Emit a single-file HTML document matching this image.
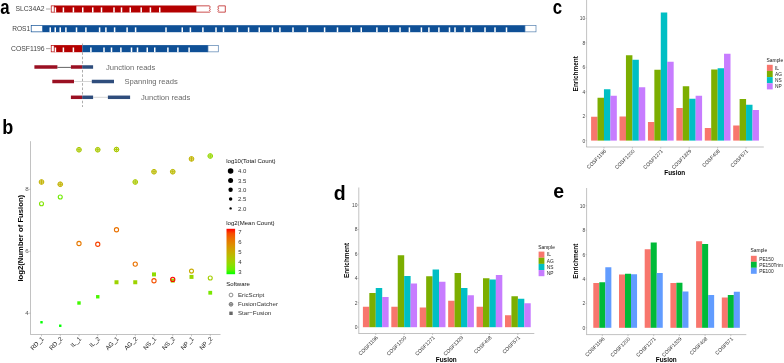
<!DOCTYPE html>
<html><head><meta charset="utf-8"><title>Figure</title>
<style>html,body{margin:0;padding:0;background:#fff}svg{display:block}</style></head>
<body>
<svg width="784" height="363" viewBox="0 0 784 363" font-family="'Liberation Sans', sans-serif">
<rect width="784" height="363" fill="#fff"/>
<text transform="translate(0.2 13.6) scale(0.8 1)" font-size="21" font-weight="bold" fill="#000">a</text>
<text transform="translate(2.2 133.7) scale(0.86 1)" font-size="21" font-weight="bold" fill="#000">b</text>
<text transform="translate(552.8 13.9) scale(0.8 1)" font-size="21" font-weight="bold" fill="#000">c</text>
<text transform="translate(333.8 199.7) scale(0.93 1)" font-size="21" font-weight="bold" fill="#000">d</text>
<text transform="translate(553.2 198) scale(0.93 1)" font-size="21" font-weight="bold" fill="#000">e</text>
<text x="44.5" y="11.3" font-size="6.8" text-anchor="end" font-weight="normal" fill="#444">SLC34A2</text>
<line x1="46" y1="9" x2="50.5" y2="9" stroke="#888" stroke-width="0.7"/>
<rect x="54" y="5.5" width="142" height="7.0" fill="#b40000"/>
<rect x="51.2" y="5.85" width="3" height="6.3" fill="#fff" stroke="#b40000" stroke-width="0.7"/>
<rect x="54.65" y="7.4" width="1.5" height="5.20" fill="#fff"/>
<rect x="62.65" y="7.4" width="1.5" height="5.20" fill="#fff"/>
<rect x="72.65" y="7.4" width="1.5" height="5.20" fill="#fff"/>
<rect x="82.00" y="7.4" width="1.5" height="5.20" fill="#fff"/>
<rect x="92.00" y="7.4" width="1.5" height="5.20" fill="#fff"/>
<rect x="100.75" y="7.4" width="1.5" height="5.20" fill="#fff"/>
<rect x="113.25" y="7.4" width="1.5" height="5.20" fill="#fff"/>
<rect x="120.75" y="7.4" width="1.5" height="5.20" fill="#fff"/>
<rect x="129.50" y="7.4" width="1.5" height="5.20" fill="#fff"/>
<rect x="140.45" y="7.4" width="1.5" height="5.20" fill="#fff"/>
<rect x="149.65" y="7.4" width="1.5" height="5.20" fill="#fff"/>
<rect x="159.00" y="7.4" width="1.5" height="5.20" fill="#fff"/>
<path d="M196 5.85 H209.5 l0.8 1.2 l-0.9 1.1 l0.9 1.1 l-0.9 1.1 l0.9 1.1 l-0.8 0.7 H196 Z" fill="#fff" stroke="#b40000" stroke-width="0.7"/>
<path d="M225.3 5.85 H218.6 l-0.8 1.2 l0.9 1.1 l-0.9 1.1 l0.9 1.1 l-0.9 1.1 l0.8 0.7 H225.3 Z" fill="#fff" stroke="#b40000" stroke-width="0.7"/>
<text x="30.2" y="31" font-size="6.6" text-anchor="end" font-weight="normal" fill="#444">ROS1</text>
<rect x="42.6" y="25.2" width="482.4" height="7.0000000000000036" fill="#0f5096"/>
<rect x="31.2" y="25.55" width="11.4" height="6.300000000000003" fill="#fff" stroke="#0f5096" stroke-width="0.7"/>
<rect x="525" y="25.55" width="11" height="6.300000000000003" fill="#fff" stroke="#5580b0" stroke-width="0.7"/>
<rect x="49.50" y="27.4" width="1.5" height="4.90" fill="#fff"/>
<rect x="54.50" y="27.4" width="1.5" height="4.90" fill="#fff"/>
<rect x="59.50" y="27.4" width="1.5" height="4.90" fill="#fff"/>
<rect x="65.15" y="27.4" width="1.5" height="4.90" fill="#fff"/>
<rect x="75.75" y="27.4" width="1.5" height="4.90" fill="#fff"/>
<rect x="85.15" y="27.4" width="1.5" height="4.90" fill="#fff"/>
<rect x="98.85" y="27.4" width="1.5" height="4.90" fill="#fff"/>
<rect x="105.15" y="27.4" width="1.5" height="4.90" fill="#fff"/>
<rect x="113.85" y="27.4" width="1.5" height="4.90" fill="#fff"/>
<rect x="126.35" y="27.4" width="1.5" height="4.90" fill="#fff"/>
<rect x="134.85" y="27.4" width="1.5" height="4.90" fill="#fff"/>
<rect x="165.25" y="27.4" width="1.5" height="4.90" fill="#fff"/>
<rect x="181.50" y="27.4" width="1.5" height="4.90" fill="#fff"/>
<rect x="189.65" y="27.4" width="1.5" height="4.90" fill="#fff"/>
<rect x="202.15" y="27.4" width="1.5" height="4.90" fill="#fff"/>
<rect x="215.25" y="27.4" width="1.5" height="4.90" fill="#fff"/>
<rect x="222.75" y="27.4" width="1.5" height="4.90" fill="#fff"/>
<rect x="236.65" y="27.4" width="1.5" height="4.90" fill="#fff"/>
<rect x="247.85" y="27.4" width="1.5" height="4.90" fill="#fff"/>
<rect x="258.50" y="27.4" width="1.5" height="4.90" fill="#fff"/>
<rect x="271.65" y="27.4" width="1.5" height="4.90" fill="#fff"/>
<rect x="279.15" y="27.4" width="1.5" height="4.90" fill="#fff"/>
<rect x="292.25" y="27.4" width="1.5" height="4.90" fill="#fff"/>
<rect x="306.65" y="27.4" width="1.5" height="4.90" fill="#fff"/>
<rect x="323.85" y="27.4" width="1.5" height="4.90" fill="#fff"/>
<rect x="336.75" y="27.4" width="1.5" height="4.90" fill="#fff"/>
<rect x="350.50" y="27.4" width="1.5" height="4.90" fill="#fff"/>
<rect x="360.50" y="27.4" width="1.5" height="4.90" fill="#fff"/>
<rect x="376.15" y="27.4" width="1.5" height="4.90" fill="#fff"/>
<rect x="388.00" y="27.4" width="1.5" height="4.90" fill="#fff"/>
<rect x="399.25" y="27.4" width="1.5" height="4.90" fill="#fff"/>
<rect x="408.65" y="27.4" width="1.5" height="4.90" fill="#fff"/>
<rect x="420.65" y="27.4" width="1.5" height="4.90" fill="#fff"/>
<rect x="428.15" y="27.4" width="1.5" height="4.90" fill="#fff"/>
<rect x="438.15" y="27.4" width="1.5" height="4.90" fill="#fff"/>
<rect x="448.75" y="27.4" width="1.5" height="4.90" fill="#fff"/>
<rect x="454.25" y="27.4" width="1.5" height="4.90" fill="#fff"/>
<rect x="463.75" y="27.4" width="1.5" height="4.90" fill="#fff"/>
<rect x="470.65" y="27.4" width="1.5" height="4.90" fill="#fff"/>
<rect x="484.25" y="27.4" width="1.5" height="4.90" fill="#fff"/>
<rect x="494.25" y="27.4" width="1.5" height="4.90" fill="#fff"/>
<rect x="505.75" y="27.4" width="1.5" height="4.90" fill="#fff"/>
<text x="44.5" y="50.9" font-size="6.8" text-anchor="end" font-weight="normal" fill="#444">COSF1196</text>
<line x1="46" y1="48.6" x2="50.5" y2="48.6" stroke="#888" stroke-width="0.7"/>
<rect x="54" y="45.1" width="28.299999999999997" height="7.100000000000001" fill="#b40000"/>
<rect x="82.3" y="45.1" width="125.7" height="7.100000000000001" fill="#0f5096"/>
<rect x="51.2" y="45.45" width="3" height="6.400000000000001" fill="#fff" stroke="#b40000" stroke-width="0.7"/>
<rect x="208" y="45.45" width="10.3" height="6.400000000000001" fill="#fff" stroke="#5580b0" stroke-width="0.7"/>
<rect x="54.65" y="47.5" width="1.5" height="4.80" fill="#fff"/>
<rect x="62.65" y="47.5" width="1.5" height="4.80" fill="#fff"/>
<rect x="72.65" y="47.5" width="1.5" height="4.80" fill="#fff"/>
<rect x="90.15" y="47.5" width="1.5" height="4.80" fill="#fff"/>
<rect x="103.25" y="47.5" width="1.5" height="4.80" fill="#fff"/>
<rect x="110.75" y="47.5" width="1.5" height="4.80" fill="#fff"/>
<rect x="120.15" y="47.5" width="1.5" height="4.80" fill="#fff"/>
<rect x="130.75" y="47.5" width="1.5" height="4.80" fill="#fff"/>
<rect x="136.75" y="47.5" width="1.5" height="4.80" fill="#fff"/>
<rect x="146.50" y="47.5" width="1.5" height="4.80" fill="#fff"/>
<rect x="154.00" y="47.5" width="1.5" height="4.80" fill="#fff"/>
<rect x="167.15" y="47.5" width="1.5" height="4.80" fill="#fff"/>
<rect x="177.15" y="47.5" width="1.5" height="4.80" fill="#fff"/>
<rect x="188.35" y="47.5" width="1.5" height="4.80" fill="#fff"/>
<line x1="82.5" y1="43.5" x2="82.5" y2="107" stroke="#777" stroke-width="0.6" stroke-dasharray="2.6 1.8"/>
<rect x="34.4" y="65.25" width="23.00" height="3.5" fill="#9a1022"/>
<line x1="57.4" y1="67.4" x2="70.9" y2="67.4" stroke="#222" stroke-width="0.7"/>
<rect x="70.9" y="65.25" width="11.40" height="3.5" fill="#9a1022"/>
<rect x="82.3" y="65.25" width="10.80" height="3.5" fill="#2f4d7c"/>
<text x="106" y="69.6" font-size="7.6" text-anchor="start" font-weight="normal" fill="#6a6a6a">Junction reads</text>
<rect x="52.3" y="79.75" width="21.70" height="3.5" fill="#9a1022"/>
<line x1="74" y1="81.5" x2="91.8" y2="81.5" stroke="#bbb" stroke-width="0.6"/>
<rect x="91.8" y="79.75" width="22.20" height="3.5" fill="#2f4d7c"/>
<text x="124.5" y="84.1" font-size="7.6" text-anchor="start" font-weight="normal" fill="#6a6a6a">Spanning reads</text>
<rect x="70.9" y="95.55" width="11.40" height="3.5" fill="#9a1022"/>
<rect x="82.3" y="95.55" width="10.80" height="3.5" fill="#2f4d7c"/>
<line x1="93.1" y1="97.3" x2="107.9" y2="97.3" stroke="#bbb" stroke-width="0.6"/>
<rect x="107.9" y="95.55" width="22.20" height="3.5" fill="#2f4d7c"/>
<text x="141" y="99.9" font-size="7.6" text-anchor="start" font-weight="normal" fill="#6a6a6a">Junction reads</text>
<line x1="30.5" y1="141.2" x2="30.5" y2="334.2" stroke="#999" stroke-width="0.6"/>
<line x1="30.2" y1="334.5" x2="220.5" y2="334.5" stroke="#999" stroke-width="0.6"/>
<line x1="41.5" y1="334.5" x2="41.5" y2="336.3" stroke="#999" stroke-width="0.5"/>
<text x="44.1" y="339.2" font-size="6.2" text-anchor="end" font-weight="normal" fill="#1a1a1a" transform="rotate(-45 44.1 339.2)">RD_1</text>
<line x1="60.25" y1="334.5" x2="60.25" y2="336.3" stroke="#999" stroke-width="0.5"/>
<text x="62.85" y="339.2" font-size="6.2" text-anchor="end" font-weight="normal" fill="#1a1a1a" transform="rotate(-45 62.85 339.2)">RD_2</text>
<line x1="79.0" y1="334.5" x2="79.0" y2="336.3" stroke="#999" stroke-width="0.5"/>
<text x="81.6" y="339.2" font-size="6.2" text-anchor="end" font-weight="normal" fill="#1a1a1a" transform="rotate(-45 81.6 339.2)">IL_1</text>
<line x1="97.75" y1="334.5" x2="97.75" y2="336.3" stroke="#999" stroke-width="0.5"/>
<text x="100.35" y="339.2" font-size="6.2" text-anchor="end" font-weight="normal" fill="#1a1a1a" transform="rotate(-45 100.35 339.2)">IL_2</text>
<line x1="116.5" y1="334.5" x2="116.5" y2="336.3" stroke="#999" stroke-width="0.5"/>
<text x="119.1" y="339.2" font-size="6.2" text-anchor="end" font-weight="normal" fill="#1a1a1a" transform="rotate(-45 119.1 339.2)">AG_1</text>
<line x1="135.25" y1="334.5" x2="135.25" y2="336.3" stroke="#999" stroke-width="0.5"/>
<text x="137.85" y="339.2" font-size="6.2" text-anchor="end" font-weight="normal" fill="#1a1a1a" transform="rotate(-45 137.85 339.2)">AG_2</text>
<line x1="154.0" y1="334.5" x2="154.0" y2="336.3" stroke="#999" stroke-width="0.5"/>
<text x="156.6" y="339.2" font-size="6.2" text-anchor="end" font-weight="normal" fill="#1a1a1a" transform="rotate(-45 156.6 339.2)">NS_1</text>
<line x1="172.75" y1="334.5" x2="172.75" y2="336.3" stroke="#999" stroke-width="0.5"/>
<text x="175.35" y="339.2" font-size="6.2" text-anchor="end" font-weight="normal" fill="#1a1a1a" transform="rotate(-45 175.35 339.2)">NS_2</text>
<line x1="191.5" y1="334.5" x2="191.5" y2="336.3" stroke="#999" stroke-width="0.5"/>
<text x="194.1" y="339.2" font-size="6.2" text-anchor="end" font-weight="normal" fill="#1a1a1a" transform="rotate(-45 194.1 339.2)">NP_1</text>
<line x1="210.25" y1="334.5" x2="210.25" y2="336.3" stroke="#999" stroke-width="0.5"/>
<text x="212.85" y="339.2" font-size="6.2" text-anchor="end" font-weight="normal" fill="#1a1a1a" transform="rotate(-45 212.85 339.2)">NP_2</text>
<line x1="29" y1="189.3" x2="30.5" y2="189.3" stroke="#999" stroke-width="0.5"/>
<text x="28.8" y="191.20000000000002" font-size="6.2" text-anchor="end" font-weight="normal" fill="#555">8</text>
<line x1="29" y1="251.3" x2="30.5" y2="251.3" stroke="#999" stroke-width="0.5"/>
<text x="28.8" y="253.20000000000002" font-size="6.2" text-anchor="end" font-weight="normal" fill="#555">6</text>
<line x1="29" y1="313.2" x2="30.5" y2="313.2" stroke="#999" stroke-width="0.5"/>
<text x="28.8" y="315.09999999999997" font-size="6.2" text-anchor="end" font-weight="normal" fill="#555">4</text>
<text x="23.0" y="238.2" font-size="7.7" text-anchor="middle" font-weight="bold" fill="#000" transform="rotate(-90 23.0 238.2)">log2(Number of Fusion)</text>
<circle cx="41.5" cy="182" r="2.3499999999999996" fill="#fff" stroke="#c2b200" stroke-width="1.0"/>
<circle cx="41.5" cy="182" r="2.3499999999999996" fill="#c2b200" fill-opacity="0.4"/>
<path d="M39.15 182H43.85M41.5 179.65V184.35" stroke="#c2b200" stroke-width="0.9"/>
<circle cx="60.25" cy="184.25" r="2.3499999999999996" fill="#fff" stroke="#c2b200" stroke-width="1.0"/>
<circle cx="60.25" cy="184.25" r="2.3499999999999996" fill="#c2b200" fill-opacity="0.4"/>
<path d="M57.9 184.25H62.6M60.25 181.9V186.6" stroke="#c2b200" stroke-width="0.9"/>
<circle cx="79.0" cy="149.75" r="2.3499999999999996" fill="#fff" stroke="#aac900" stroke-width="1.0"/>
<circle cx="79.0" cy="149.75" r="2.3499999999999996" fill="#aac900" fill-opacity="0.4"/>
<path d="M76.65 149.75H81.35M79.0 147.4V152.1" stroke="#aac900" stroke-width="0.9"/>
<circle cx="97.75" cy="149.75" r="2.3499999999999996" fill="#fff" stroke="#aac900" stroke-width="1.0"/>
<circle cx="97.75" cy="149.75" r="2.3499999999999996" fill="#aac900" fill-opacity="0.4"/>
<path d="M95.4 149.75H100.1M97.75 147.4V152.1" stroke="#aac900" stroke-width="0.9"/>
<circle cx="116.5" cy="149.5" r="2.3499999999999996" fill="#fff" stroke="#aac900" stroke-width="1.0"/>
<circle cx="116.5" cy="149.5" r="2.3499999999999996" fill="#aac900" fill-opacity="0.4"/>
<path d="M114.15 149.5H118.85M116.5 147.15V151.85" stroke="#aac900" stroke-width="0.9"/>
<circle cx="135.25" cy="182" r="2.3499999999999996" fill="#fff" stroke="#aac900" stroke-width="1.0"/>
<circle cx="135.25" cy="182" r="2.3499999999999996" fill="#aac900" fill-opacity="0.4"/>
<path d="M132.9 182H137.6M135.25 179.65V184.35" stroke="#aac900" stroke-width="0.9"/>
<circle cx="154.0" cy="171.75" r="2.3499999999999996" fill="#fff" stroke="#bbba00" stroke-width="1.0"/>
<circle cx="154.0" cy="171.75" r="2.3499999999999996" fill="#bbba00" fill-opacity="0.4"/>
<path d="M151.65 171.75H156.35M154.0 169.4V174.1" stroke="#bbba00" stroke-width="0.9"/>
<circle cx="172.75" cy="171.75" r="2.3499999999999996" fill="#fff" stroke="#bbba00" stroke-width="1.0"/>
<circle cx="172.75" cy="171.75" r="2.3499999999999996" fill="#bbba00" fill-opacity="0.4"/>
<path d="M170.4 171.75H175.1M172.75 169.4V174.1" stroke="#bbba00" stroke-width="0.9"/>
<circle cx="191.5" cy="158.9" r="2.3499999999999996" fill="#fff" stroke="#c1b400" stroke-width="1.0"/>
<circle cx="191.5" cy="158.9" r="2.3499999999999996" fill="#c1b400" fill-opacity="0.4"/>
<path d="M189.15 158.9H193.85M191.5 156.55V161.25" stroke="#c1b400" stroke-width="0.9"/>
<circle cx="210.25" cy="156" r="2.3499999999999996" fill="#fff" stroke="#95d800" stroke-width="1.0"/>
<circle cx="210.25" cy="156" r="2.3499999999999996" fill="#95d800" fill-opacity="0.4"/>
<path d="M207.9 156H212.6M210.25 153.65V158.35" stroke="#95d800" stroke-width="0.9"/>
<rect x="40.3" y="321.05" width="2.4" height="2.4" fill="#00ff00"/>
<rect x="59.05" y="324.55" width="2.4" height="2.4" fill="#00ff00"/>
<rect x="77.3" y="301.3" width="3.4" height="3.4" fill="#41f900"/>
<rect x="96.05" y="295.05" width="3.4" height="3.4" fill="#49f700"/>
<rect x="114.5" y="280.25" width="4" height="4" fill="#9dd300"/>
<rect x="133.25" y="280.25" width="4" height="4" fill="#9dd300"/>
<rect x="152.0" y="272.4" width="4" height="4" fill="#90dc00"/>
<rect x="170.75" y="278.6" width="4" height="4" fill="#95d800"/>
<rect x="189.5" y="274.9" width="4" height="4" fill="#98d700"/>
<rect x="208.35" y="290.85" width="3.8" height="3.8" fill="#7ae700"/>
<circle cx="41.5" cy="203.75" r="2.0" fill="none" stroke="#81e400" stroke-width="1.1"/>
<circle cx="60.25" cy="197" r="2.0" fill="none" stroke="#6eec00" stroke-width="1.1"/>
<circle cx="79.0" cy="243.5" r="2.1" fill="none" stroke="#e77900" stroke-width="1.1"/>
<circle cx="97.75" cy="244.25" r="2.1" fill="none" stroke="#f84200" stroke-width="1.1"/>
<circle cx="116.5" cy="229.75" r="2.1" fill="none" stroke="#ea7200" stroke-width="1.1"/>
<circle cx="135.25" cy="264.1" r="2.1" fill="none" stroke="#ea7200" stroke-width="1.1"/>
<circle cx="154.0" cy="280.75" r="2.1" fill="none" stroke="#f55100" stroke-width="1.1"/>
<circle cx="172.75" cy="279.4" r="2.1" fill="none" stroke="#ff0000" stroke-width="1.1"/>
<circle cx="191.5" cy="271.1" r="2.0" fill="none" stroke="#c9ab00" stroke-width="1.1"/>
<circle cx="210.25" cy="278" r="2.0" fill="none" stroke="#a4ce00" stroke-width="1.1"/>
<text x="226.2" y="163.1" font-size="6.05" text-anchor="start" font-weight="normal" fill="#111">log10(Total Count)</text>
<circle cx="230.6" cy="171" r="2.8" fill="#000"/>
<text x="238" y="173.1" font-size="6" text-anchor="start" font-weight="normal" fill="#333">4.0</text>
<circle cx="230.6" cy="180.6" r="2.5" fill="#000"/>
<text x="238" y="182.7" font-size="6" text-anchor="start" font-weight="normal" fill="#333">3.5</text>
<circle cx="230.6" cy="189.8" r="2.2" fill="#000"/>
<text x="238" y="191.9" font-size="6" text-anchor="start" font-weight="normal" fill="#333">3.0</text>
<circle cx="230.6" cy="198.9" r="1.75" fill="#000"/>
<text x="238" y="201.0" font-size="6" text-anchor="start" font-weight="normal" fill="#333">2.5</text>
<circle cx="230.6" cy="208.4" r="1.2" fill="#000"/>
<text x="238" y="210.5" font-size="6" text-anchor="start" font-weight="normal" fill="#333">2.0</text>
<text x="226.2" y="224.6" font-size="6.05" text-anchor="start" font-weight="normal" fill="#111">log2(Mean Count)</text>
<defs><linearGradient id="cb" x1="0" y1="1" x2="0" y2="0">
<stop offset="0.0" stop-color="#00ff00"/>
<stop offset="0.1" stop-color="#65ef00"/>
<stop offset="0.2" stop-color="#8adf00"/>
<stop offset="0.3" stop-color="#a4ce00"/>
<stop offset="0.4" stop-color="#b8bd00"/>
<stop offset="0.5" stop-color="#c9ab00"/>
<stop offset="0.6" stop-color="#d79800"/>
<stop offset="0.7" stop-color="#e38200"/>
<stop offset="0.8" stop-color="#ed6a00"/>
<stop offset="0.9" stop-color="#f74a00"/>
<stop offset="1.0" stop-color="#ff0000"/>
</linearGradient></defs>
<rect x="226.5" y="228.8" width="8.6" height="45.4" fill="url(#cb)"/>
<text x="238.2" y="234.1" font-size="6" text-anchor="start" font-weight="normal" fill="#333">7</text>
<text x="238.2" y="244.1" font-size="6" text-anchor="start" font-weight="normal" fill="#333">6</text>
<text x="238.2" y="254.1" font-size="6" text-anchor="start" font-weight="normal" fill="#333">5</text>
<text x="238.2" y="264.1" font-size="6" text-anchor="start" font-weight="normal" fill="#333">4</text>
<text x="238.2" y="273.70000000000005" font-size="6" text-anchor="start" font-weight="normal" fill="#333">3</text>
<text x="226.2" y="286.4" font-size="6" text-anchor="start" font-weight="normal" fill="#111">Software</text>
<circle cx="231" cy="295" r="1.9" fill="none" stroke="#444" stroke-width="0.6"/>
<text x="238" y="297.1" font-size="6.15" text-anchor="start" font-weight="normal" fill="#333">EricScript</text>
<circle cx="231" cy="304.3" r="1.9" fill="#ddd" stroke="#444" stroke-width="0.6"/><path d="M229.1 304.3H232.9M231 302.4V306.2" stroke="#444" stroke-width="0.5"/>
<text x="238" y="306.4" font-size="6.15" text-anchor="start" font-weight="normal" fill="#333">FusionCatcher</text>
<rect x="229.3" y="311.6" width="3.4" height="3.4" fill="#666"/>
<text x="238" y="315.4" font-size="6.15" text-anchor="start" font-weight="normal" fill="#333">Star−Fusion</text>
<rect x="591.10" y="116.75" width="6.47" height="23.85" fill="#F8766D"/>
<rect x="597.52" y="97.75" width="6.47" height="42.85" fill="#7CAE00"/>
<rect x="603.94" y="89.25" width="6.47" height="51.35" fill="#00BFC4"/>
<rect x="610.36" y="95.75" width="6.47" height="44.85" fill="#C77CFF"/>
<rect x="619.52" y="116.5" width="6.47" height="24.10" fill="#F8766D"/>
<rect x="625.94" y="55.25" width="6.47" height="85.35" fill="#7CAE00"/>
<rect x="632.36" y="59.75" width="6.47" height="80.85" fill="#00BFC4"/>
<rect x="638.78" y="87.25" width="6.47" height="53.35" fill="#C77CFF"/>
<rect x="647.94" y="122" width="6.47" height="18.60" fill="#F8766D"/>
<rect x="654.36" y="69.75" width="6.47" height="70.85" fill="#7CAE00"/>
<rect x="660.78" y="12.5" width="6.47" height="128.10" fill="#00BFC4"/>
<rect x="667.20" y="61.75" width="6.47" height="78.85" fill="#C77CFF"/>
<rect x="676.36" y="108" width="6.47" height="32.60" fill="#F8766D"/>
<rect x="682.78" y="86.25" width="6.47" height="54.35" fill="#7CAE00"/>
<rect x="689.20" y="98.75" width="6.47" height="41.85" fill="#00BFC4"/>
<rect x="695.62" y="95.75" width="6.47" height="44.85" fill="#C77CFF"/>
<rect x="704.78" y="128" width="6.47" height="12.60" fill="#F8766D"/>
<rect x="711.20" y="69.5" width="6.47" height="71.10" fill="#7CAE00"/>
<rect x="717.62" y="68.25" width="6.47" height="72.35" fill="#00BFC4"/>
<rect x="724.04" y="53.75" width="6.47" height="86.85" fill="#C77CFF"/>
<rect x="733.20" y="125.5" width="6.47" height="15.10" fill="#F8766D"/>
<rect x="739.62" y="99" width="6.47" height="41.60" fill="#7CAE00"/>
<rect x="746.04" y="104.75" width="6.47" height="35.85" fill="#00BFC4"/>
<rect x="752.46" y="110" width="6.47" height="30.60" fill="#C77CFF"/>
<line x1="586.6" y1="0" x2="586.6" y2="147" stroke="#999" stroke-width="0.6"/>
<line x1="586.3000000000001" y1="147" x2="763.8" y2="147" stroke="#999" stroke-width="0.6"/>
<line x1="585.5" y1="140.60" x2="586.6" y2="140.60" stroke="#999" stroke-width="0.5"/>
<text x="585.3" y="142.6" font-size="4.9" text-anchor="end" font-weight="normal" fill="#444">0</text>
<line x1="585.5" y1="116.16" x2="586.6" y2="116.16" stroke="#999" stroke-width="0.5"/>
<text x="585.3" y="118.16" font-size="4.9" text-anchor="end" font-weight="normal" fill="#444">2</text>
<line x1="585.5" y1="91.72" x2="586.6" y2="91.72" stroke="#999" stroke-width="0.5"/>
<text x="585.3" y="93.72" font-size="4.9" text-anchor="end" font-weight="normal" fill="#444">4</text>
<line x1="585.5" y1="67.28" x2="586.6" y2="67.28" stroke="#999" stroke-width="0.5"/>
<text x="585.3" y="69.28" font-size="4.9" text-anchor="end" font-weight="normal" fill="#444">6</text>
<line x1="585.5" y1="42.84" x2="586.6" y2="42.84" stroke="#999" stroke-width="0.5"/>
<text x="585.3" y="44.84" font-size="4.9" text-anchor="end" font-weight="normal" fill="#444">8</text>
<line x1="585.5" y1="18.40" x2="586.6" y2="18.40" stroke="#999" stroke-width="0.5"/>
<text x="585.3" y="20.4" font-size="4.9" text-anchor="end" font-weight="normal" fill="#444">10</text>
<line x1="603.94" y1="147" x2="603.94" y2="148.5" stroke="#999" stroke-width="0.5"/>
<text x="606.54" y="151.6" font-size="5.1" text-anchor="end" font-weight="normal" fill="#333" transform="rotate(-45 606.54 151.6)">COSF1196</text>
<line x1="632.36" y1="147" x2="632.36" y2="148.5" stroke="#999" stroke-width="0.5"/>
<text x="634.96" y="151.6" font-size="5.1" text-anchor="end" font-weight="normal" fill="#333" transform="rotate(-45 634.96 151.6)">COSF1200</text>
<line x1="660.78" y1="147" x2="660.78" y2="148.5" stroke="#999" stroke-width="0.5"/>
<text x="663.38" y="151.6" font-size="5.1" text-anchor="end" font-weight="normal" fill="#333" transform="rotate(-45 663.38 151.6)">COSF1271</text>
<line x1="689.20" y1="147" x2="689.20" y2="148.5" stroke="#999" stroke-width="0.5"/>
<text x="691.8" y="151.6" font-size="5.1" text-anchor="end" font-weight="normal" fill="#333" transform="rotate(-45 691.8 151.6)">COSF1329</text>
<line x1="717.62" y1="147" x2="717.62" y2="148.5" stroke="#999" stroke-width="0.5"/>
<text x="720.22" y="151.6" font-size="5.1" text-anchor="end" font-weight="normal" fill="#333" transform="rotate(-45 720.22 151.6)">COSF408</text>
<line x1="746.04" y1="147" x2="746.04" y2="148.5" stroke="#999" stroke-width="0.5"/>
<text x="748.64" y="151.6" font-size="5.1" text-anchor="end" font-weight="normal" fill="#333" transform="rotate(-45 748.64 151.6)">COSF571</text>
<text x="674.8" y="174.8" font-size="6.4" text-anchor="middle" font-weight="bold" fill="#000">Fusion</text>
<text x="577.6" y="73.8" font-size="6.4" text-anchor="middle" font-weight="bold" fill="#000" transform="rotate(-90 577.6 73.8)">Enrichment</text>
<text x="766.6" y="61.7" font-size="4.9" text-anchor="start" font-weight="normal" fill="#111">Sample</text>
<rect x="766.9" y="64.8" width="5.8" height="6.15" fill="#F8766D"/>
<text x="775" y="69.58" font-size="4.8" text-anchor="start" font-weight="normal" fill="#222">IL</text>
<rect x="766.9" y="70.95" width="5.8" height="6.15" fill="#7CAE00"/>
<text x="775" y="75.73" font-size="4.8" text-anchor="start" font-weight="normal" fill="#222">AG</text>
<rect x="766.9" y="77.1" width="5.8" height="6.15" fill="#00BFC4"/>
<text x="775" y="81.88" font-size="4.8" text-anchor="start" font-weight="normal" fill="#222">NS</text>
<rect x="766.9" y="83.25" width="5.8" height="6.15" fill="#C77CFF"/>
<text x="775" y="88.03" font-size="4.8" text-anchor="start" font-weight="normal" fill="#222">NP</text>
<rect x="362.90" y="306.75" width="6.47" height="20.45" fill="#F8766D"/>
<rect x="369.32" y="293" width="6.47" height="34.20" fill="#7CAE00"/>
<rect x="375.74" y="288" width="6.47" height="39.20" fill="#00BFC4"/>
<rect x="382.16" y="297" width="6.47" height="30.20" fill="#C77CFF"/>
<rect x="391.32" y="306.75" width="6.47" height="20.45" fill="#F8766D"/>
<rect x="397.74" y="255.25" width="6.47" height="71.95" fill="#7CAE00"/>
<rect x="404.16" y="276" width="6.47" height="51.20" fill="#00BFC4"/>
<rect x="410.58" y="283.5" width="6.47" height="43.70" fill="#C77CFF"/>
<rect x="419.74" y="307.5" width="6.47" height="19.70" fill="#F8766D"/>
<rect x="426.16" y="276.25" width="6.47" height="50.95" fill="#7CAE00"/>
<rect x="432.58" y="269.5" width="6.47" height="57.70" fill="#00BFC4"/>
<rect x="439.00" y="281.75" width="6.47" height="45.45" fill="#C77CFF"/>
<rect x="448.16" y="300.75" width="6.47" height="26.45" fill="#F8766D"/>
<rect x="454.58" y="273" width="6.47" height="54.20" fill="#7CAE00"/>
<rect x="461.00" y="288" width="6.47" height="39.20" fill="#00BFC4"/>
<rect x="467.42" y="295.25" width="6.47" height="31.95" fill="#C77CFF"/>
<rect x="476.58" y="306.75" width="6.47" height="20.45" fill="#F8766D"/>
<rect x="483.00" y="278.25" width="6.47" height="48.95" fill="#7CAE00"/>
<rect x="489.42" y="279.5" width="6.47" height="47.70" fill="#00BFC4"/>
<rect x="495.84" y="275" width="6.47" height="52.20" fill="#C77CFF"/>
<rect x="505.00" y="315.25" width="6.47" height="11.95" fill="#F8766D"/>
<rect x="511.42" y="296.25" width="6.47" height="30.95" fill="#7CAE00"/>
<rect x="517.84" y="298.75" width="6.47" height="28.45" fill="#00BFC4"/>
<rect x="524.26" y="303.25" width="6.47" height="23.95" fill="#C77CFF"/>
<line x1="358.8" y1="187.5" x2="358.8" y2="333.5" stroke="#999" stroke-width="0.6"/>
<line x1="358.5" y1="333.5" x2="534.3" y2="333.5" stroke="#999" stroke-width="0.6"/>
<line x1="357.7" y1="327.20" x2="358.8" y2="327.20" stroke="#999" stroke-width="0.5"/>
<text x="357.5" y="329.2" font-size="4.9" text-anchor="end" font-weight="normal" fill="#444">0</text>
<line x1="357.7" y1="302.76" x2="358.8" y2="302.76" stroke="#999" stroke-width="0.5"/>
<text x="357.5" y="304.76" font-size="4.9" text-anchor="end" font-weight="normal" fill="#444">2</text>
<line x1="357.7" y1="278.32" x2="358.8" y2="278.32" stroke="#999" stroke-width="0.5"/>
<text x="357.5" y="280.32" font-size="4.9" text-anchor="end" font-weight="normal" fill="#444">4</text>
<line x1="357.7" y1="253.88" x2="358.8" y2="253.88" stroke="#999" stroke-width="0.5"/>
<text x="357.5" y="255.88" font-size="4.9" text-anchor="end" font-weight="normal" fill="#444">6</text>
<line x1="357.7" y1="229.44" x2="358.8" y2="229.44" stroke="#999" stroke-width="0.5"/>
<text x="357.5" y="231.44" font-size="4.9" text-anchor="end" font-weight="normal" fill="#444">8</text>
<line x1="357.7" y1="205.00" x2="358.8" y2="205.00" stroke="#999" stroke-width="0.5"/>
<text x="357.5" y="207.0" font-size="4.9" text-anchor="end" font-weight="normal" fill="#444">10</text>
<line x1="375.74" y1="333.5" x2="375.74" y2="335.0" stroke="#999" stroke-width="0.5"/>
<text x="378.34" y="338.1" font-size="5.1" text-anchor="end" font-weight="normal" fill="#333" transform="rotate(-45 378.34 338.1)">COSF1196</text>
<line x1="404.16" y1="333.5" x2="404.16" y2="335.0" stroke="#999" stroke-width="0.5"/>
<text x="406.76" y="338.1" font-size="5.1" text-anchor="end" font-weight="normal" fill="#333" transform="rotate(-45 406.76 338.1)">COSF1200</text>
<line x1="432.58" y1="333.5" x2="432.58" y2="335.0" stroke="#999" stroke-width="0.5"/>
<text x="435.18" y="338.1" font-size="5.1" text-anchor="end" font-weight="normal" fill="#333" transform="rotate(-45 435.18 338.1)">COSF1271</text>
<line x1="461.00" y1="333.5" x2="461.00" y2="335.0" stroke="#999" stroke-width="0.5"/>
<text x="463.6" y="338.1" font-size="5.1" text-anchor="end" font-weight="normal" fill="#333" transform="rotate(-45 463.6 338.1)">COSF1329</text>
<line x1="489.42" y1="333.5" x2="489.42" y2="335.0" stroke="#999" stroke-width="0.5"/>
<text x="492.02" y="338.1" font-size="5.1" text-anchor="end" font-weight="normal" fill="#333" transform="rotate(-45 492.02 338.1)">COSF408</text>
<line x1="517.84" y1="333.5" x2="517.84" y2="335.0" stroke="#999" stroke-width="0.5"/>
<text x="520.44" y="338.1" font-size="5.1" text-anchor="end" font-weight="normal" fill="#333" transform="rotate(-45 520.44 338.1)">COSF571</text>
<text x="446.3" y="361.5" font-size="6.4" text-anchor="middle" font-weight="bold" fill="#000">Fusion</text>
<text x="349.1" y="260.5" font-size="6.4" text-anchor="middle" font-weight="bold" fill="#000" transform="rotate(-90 349.1 260.5)">Enrichment</text>
<text x="538.3" y="248.6" font-size="4.9" text-anchor="start" font-weight="normal" fill="#111">Sample</text>
<rect x="538.5999999999999" y="251.6" width="5.8" height="6.15" fill="#F8766D"/>
<text x="546.8" y="256.38" font-size="4.8" text-anchor="start" font-weight="normal" fill="#222">IL</text>
<rect x="538.5999999999999" y="257.75" width="5.8" height="6.15" fill="#7CAE00"/>
<text x="546.8" y="262.52" font-size="4.8" text-anchor="start" font-weight="normal" fill="#222">AG</text>
<rect x="538.5999999999999" y="263.9" width="5.8" height="6.15" fill="#00BFC4"/>
<text x="546.8" y="268.67" font-size="4.8" text-anchor="start" font-weight="normal" fill="#222">NS</text>
<rect x="538.5999999999999" y="270.05" width="5.8" height="6.15" fill="#C77CFF"/>
<text x="546.8" y="274.82" font-size="4.8" text-anchor="start" font-weight="normal" fill="#222">NP</text>
<rect x="593.30" y="283" width="6.05" height="44.80" fill="#F8766D"/>
<rect x="599.30" y="282.25" width="6.05" height="45.55" fill="#00BA38"/>
<rect x="605.30" y="267.25" width="6.05" height="60.55" fill="#619CFF"/>
<rect x="619.00" y="274.5" width="6.05" height="53.30" fill="#F8766D"/>
<rect x="625.00" y="273.75" width="6.05" height="54.05" fill="#00BA38"/>
<rect x="631.00" y="274.25" width="6.05" height="53.55" fill="#619CFF"/>
<rect x="644.70" y="249.25" width="6.05" height="78.55" fill="#F8766D"/>
<rect x="650.70" y="242.5" width="6.05" height="85.30" fill="#00BA38"/>
<rect x="656.70" y="273" width="6.05" height="54.80" fill="#619CFF"/>
<rect x="670.40" y="283" width="6.05" height="44.80" fill="#F8766D"/>
<rect x="676.40" y="282.75" width="6.05" height="45.05" fill="#00BA38"/>
<rect x="682.40" y="291.5" width="6.05" height="36.30" fill="#619CFF"/>
<rect x="696.10" y="241.25" width="6.05" height="86.55" fill="#F8766D"/>
<rect x="702.10" y="244" width="6.05" height="83.80" fill="#00BA38"/>
<rect x="708.10" y="295" width="6.05" height="32.80" fill="#619CFF"/>
<rect x="721.80" y="297.5" width="6.05" height="30.30" fill="#F8766D"/>
<rect x="727.80" y="295" width="6.05" height="32.80" fill="#00BA38"/>
<rect x="733.80" y="291.75" width="6.05" height="36.05" fill="#619CFF"/>
<line x1="586.6" y1="188" x2="586.6" y2="334.6" stroke="#999" stroke-width="0.6"/>
<line x1="586.3000000000001" y1="334.6" x2="746.3" y2="334.6" stroke="#999" stroke-width="0.6"/>
<line x1="585.5" y1="327.80" x2="586.6" y2="327.80" stroke="#999" stroke-width="0.5"/>
<text x="585.3" y="329.8" font-size="4.9" text-anchor="end" font-weight="normal" fill="#444">0</text>
<line x1="585.5" y1="303.40" x2="586.6" y2="303.40" stroke="#999" stroke-width="0.5"/>
<text x="585.3" y="305.4" font-size="4.9" text-anchor="end" font-weight="normal" fill="#444">2</text>
<line x1="585.5" y1="279.00" x2="586.6" y2="279.00" stroke="#999" stroke-width="0.5"/>
<text x="585.3" y="281.0" font-size="4.9" text-anchor="end" font-weight="normal" fill="#444">4</text>
<line x1="585.5" y1="254.60" x2="586.6" y2="254.60" stroke="#999" stroke-width="0.5"/>
<text x="585.3" y="256.6" font-size="4.9" text-anchor="end" font-weight="normal" fill="#444">6</text>
<line x1="585.5" y1="230.20" x2="586.6" y2="230.20" stroke="#999" stroke-width="0.5"/>
<text x="585.3" y="232.2" font-size="4.9" text-anchor="end" font-weight="normal" fill="#444">8</text>
<line x1="585.5" y1="205.80" x2="586.6" y2="205.80" stroke="#999" stroke-width="0.5"/>
<text x="585.3" y="207.8" font-size="4.9" text-anchor="end" font-weight="normal" fill="#444">10</text>
<line x1="602.30" y1="334.6" x2="602.30" y2="336.1" stroke="#999" stroke-width="0.5"/>
<text x="604.9" y="339.2" font-size="5.1" text-anchor="end" font-weight="normal" fill="#333" transform="rotate(-45 604.9 339.2)">COSF1196</text>
<line x1="628.00" y1="334.6" x2="628.00" y2="336.1" stroke="#999" stroke-width="0.5"/>
<text x="630.6" y="339.2" font-size="5.1" text-anchor="end" font-weight="normal" fill="#333" transform="rotate(-45 630.6 339.2)">COSF1200</text>
<line x1="653.70" y1="334.6" x2="653.70" y2="336.1" stroke="#999" stroke-width="0.5"/>
<text x="656.3" y="339.2" font-size="5.1" text-anchor="end" font-weight="normal" fill="#333" transform="rotate(-45 656.3 339.2)">COSF1271</text>
<line x1="679.40" y1="334.6" x2="679.40" y2="336.1" stroke="#999" stroke-width="0.5"/>
<text x="682.0" y="339.2" font-size="5.1" text-anchor="end" font-weight="normal" fill="#333" transform="rotate(-45 682.0 339.2)">COSF1329</text>
<line x1="705.10" y1="334.6" x2="705.10" y2="336.1" stroke="#999" stroke-width="0.5"/>
<text x="707.7" y="339.2" font-size="5.1" text-anchor="end" font-weight="normal" fill="#333" transform="rotate(-45 707.7 339.2)">COSF408</text>
<line x1="730.80" y1="334.6" x2="730.80" y2="336.1" stroke="#999" stroke-width="0.5"/>
<text x="733.4" y="339.2" font-size="5.1" text-anchor="end" font-weight="normal" fill="#333" transform="rotate(-45 733.4 339.2)">COSF571</text>
<text x="666.3" y="362" font-size="6.4" text-anchor="middle" font-weight="bold" fill="#000">Fusion</text>
<text x="578.4" y="261.2" font-size="6.4" text-anchor="middle" font-weight="bold" fill="#000" transform="rotate(-90 578.4 261.2)">Enrichment</text>
<text x="750.6" y="252.2" font-size="4.9" text-anchor="start" font-weight="normal" fill="#111">Sample</text>
<rect x="750.9" y="255.8" width="5.8" height="6.0" fill="#F8766D"/>
<text x="759.2" y="260.5" font-size="4.8" text-anchor="start" font-weight="normal" fill="#222">PE150</text>
<rect x="750.9" y="261.8" width="5.8" height="6.0" fill="#00BA38"/>
<text x="759.2" y="266.5" font-size="4.8" text-anchor="start" font-weight="normal" fill="#222">PE150Trim</text>
<rect x="750.9" y="267.8" width="5.8" height="6.0" fill="#619CFF"/>
<text x="759.2" y="272.5" font-size="4.8" text-anchor="start" font-weight="normal" fill="#222">PE100</text>
</svg>
</body></html>
